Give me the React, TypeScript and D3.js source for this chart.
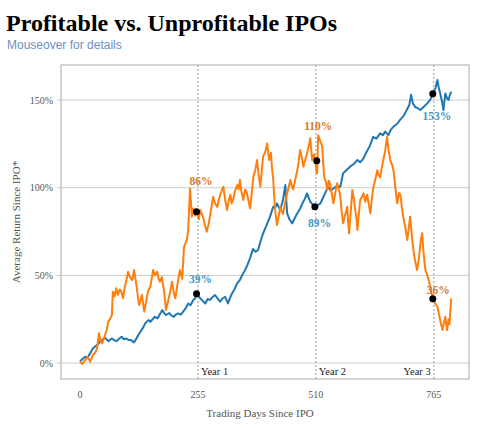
import React, { useEffect, useRef } from "react";
import * as d3 from "d3";

// [trading day, average return %]
const profitable: [number, number][] = [
  [0, 1], [6, 2.5], [11, 3.6], [16, 3], [22, 5.5], [27, 8], [32, 9.3], [38, 10.5], [43, 12],
  [49, 13.5], [54, 14.5], [61, 12.5], [69, 14], [74, 13], [79, 12.5], [85, 14], [90, 15],
  [95, 13.6], [100, 14], [105, 13.2], [110, 13.1], [117, 11.8], [122, 14], [126, 16],
  [133, 18.8], [137, 20.5], [141, 22.6], [148, 24.5], [152, 23.5], [157, 25], [162, 26.4],
  [168, 25.5], [173, 28], [178, 30.2], [182, 28.5], [186, 27.4], [193, 28.5], [198, 27],
  [203, 26.4], [208, 27.8], [212, 28.3], [218, 27.6], [223, 29.3], [228, 31], [234, 34],
  [239, 33], [245, 36], [249, 37], [253, 39.5], [256, 38.5], [260, 36.9], [265, 35.5],
  [271, 34], [276, 36.5], [281, 36], [286, 37.5], [292, 38.8], [297, 37], [303, 35],
  [308, 36.8], [314, 37.8], [320, 34], [325, 37.5], [329, 39.8], [334, 42], [340, 45.5],
  [346, 47.5], [351, 50.2], [357, 53], [362, 55.9], [368, 60], [374, 65], [380, 63.5],
  [385, 64.5], [390, 69], [396, 74], [404, 79], [411, 83.5], [418, 89.2], [422, 88.5],
  [426, 91], [433, 87.3], [439, 93], [444, 101.5], [448, 85.4], [453, 82], [459, 79.7],
  [464, 82.5], [470, 85.4], [476, 88], [481, 91.1], [486, 93.5], [491, 96.8], [498, 92],
  [503, 90.5], [508, 89.2], [514, 90], [520, 91.1], [525, 94], [530, 96.8], [537, 100.6],
  [542, 98.5], [548, 99.6], [555, 101], [563, 100.6], [569, 108.2], [576, 110], [584, 112],
  [592, 113.5], [600, 115.8], [606, 114.5], [613, 116.8], [621, 121], [627, 124], [634, 129],
  [641, 128], [649, 131], [655, 130], [660, 132], [667, 130], [672, 133], [678, 134.8],
  [686, 136.5], [693, 139], [700, 141], [708, 145], [712, 147], [716, 153], [720, 148],
  [725, 146], [730, 145.5], [736, 144.3], [743, 146], [751, 148.1], [757, 150], [764, 153.8],
  [769, 157], [773, 161.4], [776, 157], [779, 153.8], [783, 149], [786, 144.3], [790, 153.8],
  [794, 151], [797, 150], [800, 153], [803, 154.8],
];

const unprofitable: [number, number][] = [
  [0, 0.7], [5, -0.5], [11, 1.7], [14, 2.5], [17, 3.5], [22, 0.7], [28, 4.6], [33, 6],
  [37, 8.4], [41, 17], [44, 13], [48, 11.2], [54, 16], [58, 19], [61, 23.6], [65, 25],
  [69, 27.4], [71, 40.7], [75, 38], [78, 42.6], [82, 38.8], [86, 42], [89, 41], [93, 36.9],
  [97, 43.5], [101, 48], [104, 52.1], [108, 49], [113, 47.3], [117, 53], [120, 48],
  [123, 42.6], [126, 36], [128, 33.1], [131, 36], [134, 38.8], [139, 29.3], [143, 35],
  [147, 40.7], [152, 43.5], [155, 48], [158, 53], [162, 50], [167, 52.1], [170, 48],
  [173, 46.4], [177, 49], [182, 40.7], [186, 30.2], [191, 36], [195, 40.7], [199, 46.4],
  [203, 40], [206, 36.9], [210, 43.5], [216, 53], [221, 48], [225, 66.3], [231, 70.2],
  [234, 75.9], [238, 99.6], [242, 83.5], [245, 88.2], [249, 84], [253, 86.3], [257, 82],
  [260, 87.3], [266, 83.5], [270, 79], [274, 74.9], [278, 79], [281, 83.5], [285, 90],
  [288, 94.9], [292, 91], [297, 89], [300, 93], [303, 95.8], [306, 98], [310, 100.6],
  [314, 93], [318, 87.3], [322, 93], [325, 96], [328, 91], [331, 93], [335, 98], [340, 101.5],
  [343, 99], [346, 104.4], [349, 98], [353, 93], [357, 99], [361, 97], [364, 93], [368, 88.2],
  [371, 96], [375, 106.3], [379, 110], [383, 115.8], [386, 108], [390, 100.6], [393, 109],
  [396, 117.7], [400, 120], [405, 125.3], [407, 120], [409, 115.8], [411, 118], [413, 120],
  [415, 112], [418, 104.4], [420, 95], [422, 87.3], [426, 78.7], [430, 84], [433, 89.2],
  [436, 87], [439, 85], [444, 92], [448, 96.8], [451, 100], [455, 104.4], [458, 101],
  [461, 99], [465, 104], [470, 110], [473, 115], [476, 121.5], [480, 117], [483, 112],
  [487, 116], [491, 119.6], [495, 124], [498, 128.2], [500, 122], [502, 115.8], [506, 119],
  [509, 115.4], [511, 110], [513, 108.2], [515, 130], [519, 127], [524, 123.4], [526, 114],
  [528, 106.3], [532, 103], [535, 98.7], [538, 104], [541, 102], [545, 96], [548, 91.1],
  [552, 97], [556, 102.5], [560, 99], [563, 94.9], [566, 86], [569, 79.7], [573, 84],
  [578, 89.2], [580, 80], [582, 74], [586, 88], [589, 98.7], [592, 94], [595, 88],
  [598, 82], [600, 75.9], [603, 85], [606, 93], [610, 95], [613, 96.8], [617, 92],
  [621, 96], [625, 90], [628, 85.4], [631, 93], [634, 99.6], [638, 104], [643, 110],
  [646, 107], [649, 106], [653, 112], [656, 115.8], [660, 121], [664, 129], [667, 122],
  [671, 115.8], [675, 113], [678, 110], [682, 100], [686, 91.1], [690, 97], [693, 96],
  [696, 89], [699, 83.5], [703, 78], [708, 70.2], [711, 77], [714, 83.5], [718, 72],
  [721, 64.5], [725, 58], [729, 53], [733, 60], [737, 70], [740, 74], [743, 63], [747, 53],
  [750, 51], [753, 48.3], [757, 44], [760, 40], [764, 36.9], [768, 34], [773, 32.1],
  [777, 27], [781, 22], [784, 18.8], [787, 23], [790, 26.4], [792, 22], [794, 18.8],
  [797, 25], [799, 22], [801, 30], [803, 36.9],
];

const xTicks = [0, 255, 510, 765];
const yTicks = [0, 50, 100, 150];
const yearLabels = ["Year 1", "Year 2", "Year 3"];

const profitableMarkDays = [252, 508, 763];
const profitableMarks = [39.5, 89.2, 153.6];
const profitableLabels = ["39%", "89%", "153%"];

const unprofitableMarkDays = [252, 512, 763];
const unprofitableMarks = [86.3, 115.4, 36.7];
const unprofitableLabels = ["86%", "110%", "36%"];

const WIDTH = 477;
const HEIGHT = 429;
const SERIF = "'Liberation Serif', 'Times New Roman', serif";

const App: React.FC = () => {
  const chartRef = useRef<SVGSVGElement | null>(null);

  useEffect(() => {
    if (!chartRef.current) return;
    const svg = d3.select(chartRef.current);
    svg.selectAll("*").remove();

    // frame of the plot area
    const frame = { left: 61, right: 469, top: 65, bottom: 379 };

    const x = d3.scaleLinear().domain([-41.1, 841.3]).range([frame.left, frame.right]);
    const y = d3.scaleLinear().domain([-9.1, 170]).range([frame.bottom, frame.top]);

    // title
    svg
      .append("text")
      .attr("x", 6)
      .attr("y", 30.5)
      .attr("font-family", SERIF)
      .attr("font-weight", "bold")
      .attr("font-size", 24)
      .attr("fill", "#000")
      .text("Profitable vs. Unprofitable IPOs");

    svg
      .append("text")
      .attr("x", 7)
      .attr("y", 48.5)
      .attr("font-family", "'Liberation Sans', Arial, sans-serif")
      .attr("font-size", 12)
      .attr("fill", "#6b8fc4")
      .text("Mouseover for details");

    // horizontal grid + y ticks
    svg
      .append("g")
      .selectAll("line")
      .data(yTicks)
      .join("line")
      .attr("x1", frame.left - 4)
      .attr("x2", frame.right)
      .attr("y1", (d) => y(d))
      .attr("y2", (d) => y(d))
      .attr("stroke", "#cccccc")
      .attr("stroke-width", 1);

    svg
      .append("g")
      .selectAll("text")
      .data(yTicks)
      .join("text")
      .attr("x", frame.left - 8)
      .attr("y", (d) => y(d) + 3.5)
      .attr("text-anchor", "end")
      .attr("font-family", SERIF)
      .attr("font-size", 10)
      .attr("fill", "#555")
      .text((d) => `${d}%`);

    // year dividers
    svg
      .append("g")
      .selectAll("line")
      .data(xTicks.slice(1))
      .join("line")
      .attr("x1", (d) => x(d))
      .attr("x2", (d) => x(d))
      .attr("y1", frame.top)
      .attr("y2", frame.bottom)
      .attr("stroke", "#bbbbbb")
      .attr("stroke-width", 1.5)
      .attr("stroke-dasharray", "2,2");

    svg
      .append("g")
      .selectAll("text")
      .data(yearLabels)
      .join("text")
      .attr("x", (_, i) => (i < 2 ? x(xTicks[i + 1]) + 3 : x(xTicks[i + 1]) - 3))
      .attr("y", 374.5)
      .attr("text-anchor", (_, i) => (i < 2 ? "start" : "end"))
      .attr("font-family", SERIF)
      .attr("font-size", 10.5)
      .attr("fill", "#222")
      .text((d) => d);

    // frame
    svg
      .append("rect")
      .attr("x", frame.left)
      .attr("y", frame.top)
      .attr("width", frame.right - frame.left)
      .attr("height", frame.bottom - frame.top)
      .attr("fill", "none")
      .attr("stroke", "#aaaaaa")
      .attr("stroke-width", 1);

    // x tick labels
    svg
      .append("g")
      .selectAll("text")
      .data(xTicks)
      .join("text")
      .attr("x", (d) => x(d))
      .attr("y", 398)
      .attr("text-anchor", "middle")
      .attr("font-family", SERIF)
      .attr("font-size", 10)
      .attr("fill", "#555")
      .text((d) => d);

    // axis titles
    svg
      .append("text")
      .attr("x", 260)
      .attr("y", 416.5)
      .attr("text-anchor", "middle")
      .attr("font-family", SERIF)
      .attr("font-size", 11)
      .attr("fill", "#555")
      .text("Trading Days Since IPO");

    svg
      .append("text")
      .attr("transform", `translate(19.5,${(frame.top + frame.bottom) / 2}) rotate(-90)`)
      .attr("text-anchor", "middle")
      .attr("font-family", SERIF)
      .attr("font-size", 11)
      .attr("fill", "#555")
      .text("Average Return Since IPO*");

    // lines
    const line = d3
      .line<[number, number]>()
      .x((d) => x(d[0]))
      .y((d) => y(d[1]));

    svg
      .append("path")
      .datum(profitable)
      .attr("fill", "none")
      .attr("stroke", "#1f77b4")
      .attr("stroke-width", 2)
      .attr("stroke-linejoin", "round")
      .attr("d", line);

    svg
      .append("path")
      .datum(unprofitable)
      .attr("fill", "none")
      .attr("stroke", "#ff7f0e")
      .attr("stroke-width", 2)
      .attr("stroke-linejoin", "round")
      .attr("d", line);

    // markers and their labels (offsets in px from the marker)
    const profitableOffsets = [[4, -10.5], [4.5, 20], [4, 26]];
    const unprofitableOffsets = [[4.5, -26.5], [1.5, -30.5], [5.5, -4.5]];

    const drawMarks = (
      days: number[],
      values: number[],
      labels: string[],
      offsets: number[][],
      color: string
    ) => {
      const g = svg.append("g");
      g.selectAll("circle")
        .data(values)
        .join("circle")
        .attr("cx", (_, i) => x(days[i]))
        .attr("cy", (d) => y(d))
        .attr("r", 3.5)
        .attr("fill", "#000");
      g.selectAll("text")
        .data(labels)
        .join("text")
        .attr("x", (_, i) => x(days[i]) + offsets[i][0])
        .attr("y", (_, i) => y(values[i]) + offsets[i][1])
        .attr("text-anchor", "middle")
        .attr("font-family", SERIF)
        .attr("font-weight", "bold")
        .attr("font-size", 11.5)
        .attr("fill", color)
        .text((d) => d);
    };

    drawMarks(profitableMarkDays, profitableMarks, profitableLabels, profitableOffsets, "#4599c0");
    drawMarks(unprofitableMarkDays, unprofitableMarks, unprofitableLabels, unprofitableOffsets, "#d27b2c");
  }, []);

  return (
    <div style={{ position: "absolute", left: 0, top: 0 }}>
      <svg ref={chartRef} width={WIDTH} height={HEIGHT}></svg>
    </div>
  );
};

export default App;
